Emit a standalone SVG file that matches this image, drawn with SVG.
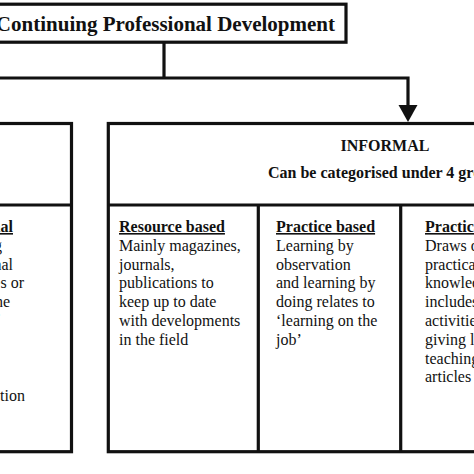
<svg xmlns="http://www.w3.org/2000/svg" width="474" height="474" viewBox="0 0 474 474">
  <defs>
    <marker id="ah" markerUnits="userSpaceOnUse" markerWidth="16" markerHeight="12" refX="15" refY="6" orient="auto">
      <path d="M0,0 L16,6 L0,12 Z" fill="#111"/>
    </marker>
    <style>
      .box { fill: #fff; stroke: #111; stroke-width: 3.2; }
      .ln { fill: none; stroke: #111; stroke-width: 3.2; }
      .arr { fill: none; stroke: #111; stroke-width: 2.2; }
      .t { font-family: "Liberation Serif", "Times New Roman", serif; fill: #111; font-size: 16px; }
      .b { font-weight: bold; }
      .u { font-weight: bold; text-decoration: underline; }
    </style>
  </defs>
  <rect width="474" height="474" fill="#fff"/>

  <g id="cpd">
    <rect class="box" x="-10" y="4.2" width="356" height="38"/>
    <text class="t b" x="335" y="31" text-anchor="end" style="font-size:21px">Continuing Professional Development</text>
  </g>

  <g id="connectors">
    <polyline class="ln" points="164,42 164,78"/>
    <polyline class="ln" points="-5,78 408,78 408,108"/>
    <polygon points="398.5,105 417.5,105 408,122" fill="#111"/>
    <line class="arr" x1="393" y1="184" x2="193" y2="205" marker-end="url(#ah)"/>
    <line class="arr" x1="393" y1="184" x2="339" y2="205" marker-end="url(#ah)"/>
    <line class="arr" x1="393" y1="184" x2="462" y2="205" marker-end="url(#ah)"/>
    <line class="arr" x1="393" y1="184" x2="677" y2="205" marker-end="url(#ah)"/>
  </g>

  <g id="formal">
    <rect class="box" x="-20" y="123.5" width="91.5" height="328.2"/>
    <line class="ln" x1="-20" y1="205" x2="71.5" y2="205"/>
    <text class="t u" x="13" y="232" text-anchor="end">Formal</text>
    <text class="t" text-anchor="end">
      <tspan x="6" y="250.8">g</tspan>
      <tspan x="17" y="269.6">nal</tspan>
      <tspan x="28" y="288.4">es or</tspan>
      <tspan x="14" y="307.2">he</tspan>
      <tspan x="3.5" y="326">f</tspan>
      <tspan x="25" y="401.2">tion</tspan>
    </text>
  </g>

  <g id="informal">
    <rect class="box" x="108.3" y="123.5" width="400" height="328.2"/>
    <line class="ln" x1="108.3" y1="205" x2="500" y2="205"/>
    <text class="t b" x="385" y="150.5" text-anchor="middle">INFORMAL</text>
    <text class="t b" x="268" y="178">Can be categorised under 4 groups</text>
  </g>

  <g id="resource-based">
    <text class="t u" x="119" y="232">Resource based</text>
    <text class="t">
      <tspan x="119" y="250.8">Mainly magazines,</tspan>
      <tspan x="119" y="269.6">journals,</tspan>
      <tspan x="119" y="288.4">publications to</tspan>
      <tspan x="119" y="307.2">keep up to date</tspan>
      <tspan x="119" y="326">with developments</tspan>
      <tspan x="119" y="344.8">in the field</tspan>
    </text>
  </g>

  <g id="practice-based">
    <line class="ln" x1="258.3" y1="205" x2="258.3" y2="451.7"/>
    <text class="t u" x="276" y="232">Practice based</text>
    <text class="t">
      <tspan x="276" y="250.8">Learning by</tspan>
      <tspan x="276" y="269.6">observation</tspan>
      <tspan x="276" y="288.4">and learning by</tspan>
      <tspan x="276" y="307.2">doing relates to</tspan>
      <tspan x="276" y="326">‘learning on the</tspan>
      <tspan x="276" y="344.8">job’</tspan>
    </text>
  </g>

  <g id="practical-knowledge">
    <line class="ln" x1="400.7" y1="205" x2="400.7" y2="451.7"/>
    <text class="t u" x="425" y="232">Practical</text>
    <text class="t">
      <tspan x="425" y="250.8">Draws on</tspan>
      <tspan x="425" y="269.6">practical</tspan>
      <tspan x="425" y="288.4">knowledge</tspan>
      <tspan x="425" y="307.2">includes</tspan>
      <tspan x="425" y="326">activities</tspan>
      <tspan x="425" y="344.8">giving lectures</tspan>
      <tspan x="425" y="363.6">teaching</tspan>
      <tspan x="425" y="382.4">articles</tspan>
    </text>
  </g>
</svg>
